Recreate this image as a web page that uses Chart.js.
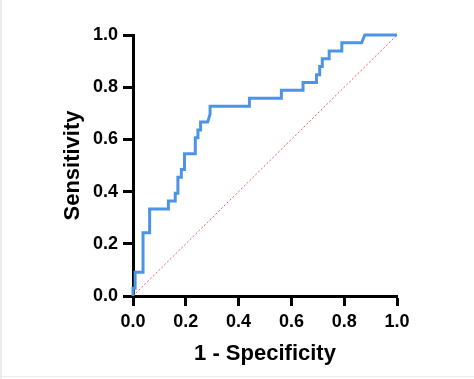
<!DOCTYPE html>
<html><head><meta charset="utf-8">
<script src="https://cdn.jsdelivr.net/npm/chart.js@4"></script>
<style>html,body{margin:0;padding:0;background:#fff;overflow:hidden;}</style>
</head><body>
<canvas id="c" width="474" height="379" style="display:block;width:474px;height:379px"></canvas>
<script>
// ROC curve (1 - specificity vs sensitivity)
const fprValues = [0, 0, 0.008, 0.008, 0.038, 0.038, 0.063, 0.063, 0.134, 0.134, 0.160, 0.160, 0.170, 0.170, 0.183, 0.183, 0.195, 0.195, 0.236, 0.236, 0.246, 0.246, 0.256, 0.256, 0.283, 0.292, 0.292, 0.441, 0.441, 0.562, 0.562, 0.644, 0.644, 0.695, 0.695, 0.707, 0.707, 0.717, 0.717, 0.743, 0.743, 0.791, 0.791, 0.866, 0.878, 1.0];
const tprValues = [0, 0.030, 0.030, 0.091, 0.091, 0.242, 0.242, 0.333, 0.333, 0.364, 0.364, 0.394, 0.394, 0.455, 0.455, 0.485, 0.485, 0.545, 0.545, 0.606, 0.606, 0.636, 0.636, 0.667, 0.667, 0.697, 0.727, 0.727, 0.758, 0.758, 0.788, 0.788, 0.818, 0.818, 0.848, 0.848, 0.879, 0.879, 0.909, 0.909, 0.939, 0.939, 0.970, 0.970, 1.0, 1.0];
const refX = [0, 1];
const refY = [0, 1];
const xTickValues = [0, 0.2, 0.4, 0.6, 0.8, 1.0];
const yTickValues = [0, 0.2, 0.4, 0.6, 0.8, 1.0];
const xTitle = '1 - Specificity';
const yTitle = 'Sensitivity';

const rocPoints = fprValues.map((x, i) => ({x: x, y: tprValues[i]}));
const refPoints = refX.map((x, i) => ({x: x, y: refY[i]}));

const FONT = '"Liberation Sans", Arial, Helvetica, sans-serif';

const framePlugin = {
  id: 'frame',
  beforeDraw(chart) {
    const ctx = chart.ctx;
    ctx.save();
    ctx.fillStyle = '#fff';
    ctx.fillRect(0, 0, chart.width, chart.height);
    ctx.fillStyle = '#ececec';
    ctx.fillRect(0, 0, 2, chart.height);
    ctx.fillRect(0, chart.height - 3, chart.width, 1);
    ctx.restore();
  }
};

function axisCommon(ticksArr) {
  return {
    type: 'linear',
    min: 0,
    max: 1,
    afterBuildTicks(scale) { scale.ticks = ticksArr.map(v => ({value: v})); },
    ticks: {
      color: '#000',
      padding: 5,
      font: {family: FONT, size: 18, weight: 'bold'},
      callback: v => Number(v).toFixed(1)
    },
    grid: {
      display: true,
      drawOnChartArea: false,
      drawTicks: true,
      tickLength: 10,
      tickWidth: 3,
      tickColor: '#000',
      color: '#000'
    },
    border: {display: true, color: '#000', width: 3}
  };
}

const xScale = axisCommon(xTickValues);
xScale.position = 'bottom';
xScale.afterFit = s => { s.height = 83; };
xScale.title = {display: true, text: xTitle, color: '#000', padding: {top: 0, bottom: 12},
  font: {family: FONT, size: 22, weight: 'bold'}};

const yScale = axisCommon(yTickValues);
yScale.position = 'left';
yScale.afterFit = s => { s.width = 133; };
yScale.title = {display: true, text: yTitle, color: '#000', padding: {top: 60, bottom: 0},
  font: {family: FONT, size: 22, weight: 'bold'}};

new Chart(document.getElementById('c'), {
  type: 'scatter',
  data: {
    datasets: [
      {
        label: 'ROC',
        data: rocPoints,
        showLine: true,
        borderColor: '#4d94e6',
        borderWidth: 3,
        pointRadius: 0,
        tension: 0,
        fill: false,
        clip: false,
        borderJoinStyle: 'miter',
        borderCapStyle: 'butt'
      },
      {
        label: 'Reference',
        data: refPoints,
        showLine: true,
        borderColor: '#ec5a6a',
        borderWidth: 1,
        borderDash: [2, 2],
        pointRadius: 0,
        fill: false,
        clip: false
      }
    ]
  },
  options: {
    responsive: false,
    animation: false,
    devicePixelRatio: 1,
    layout: {padding: {top: 35, right: 77, left: 0, bottom: 0}},
    plugins: {legend: {display: false}, tooltip: {enabled: false}},
    scales: {x: xScale, y: yScale}
  },
  plugins: [framePlugin]
});
</script>
</body></html>
